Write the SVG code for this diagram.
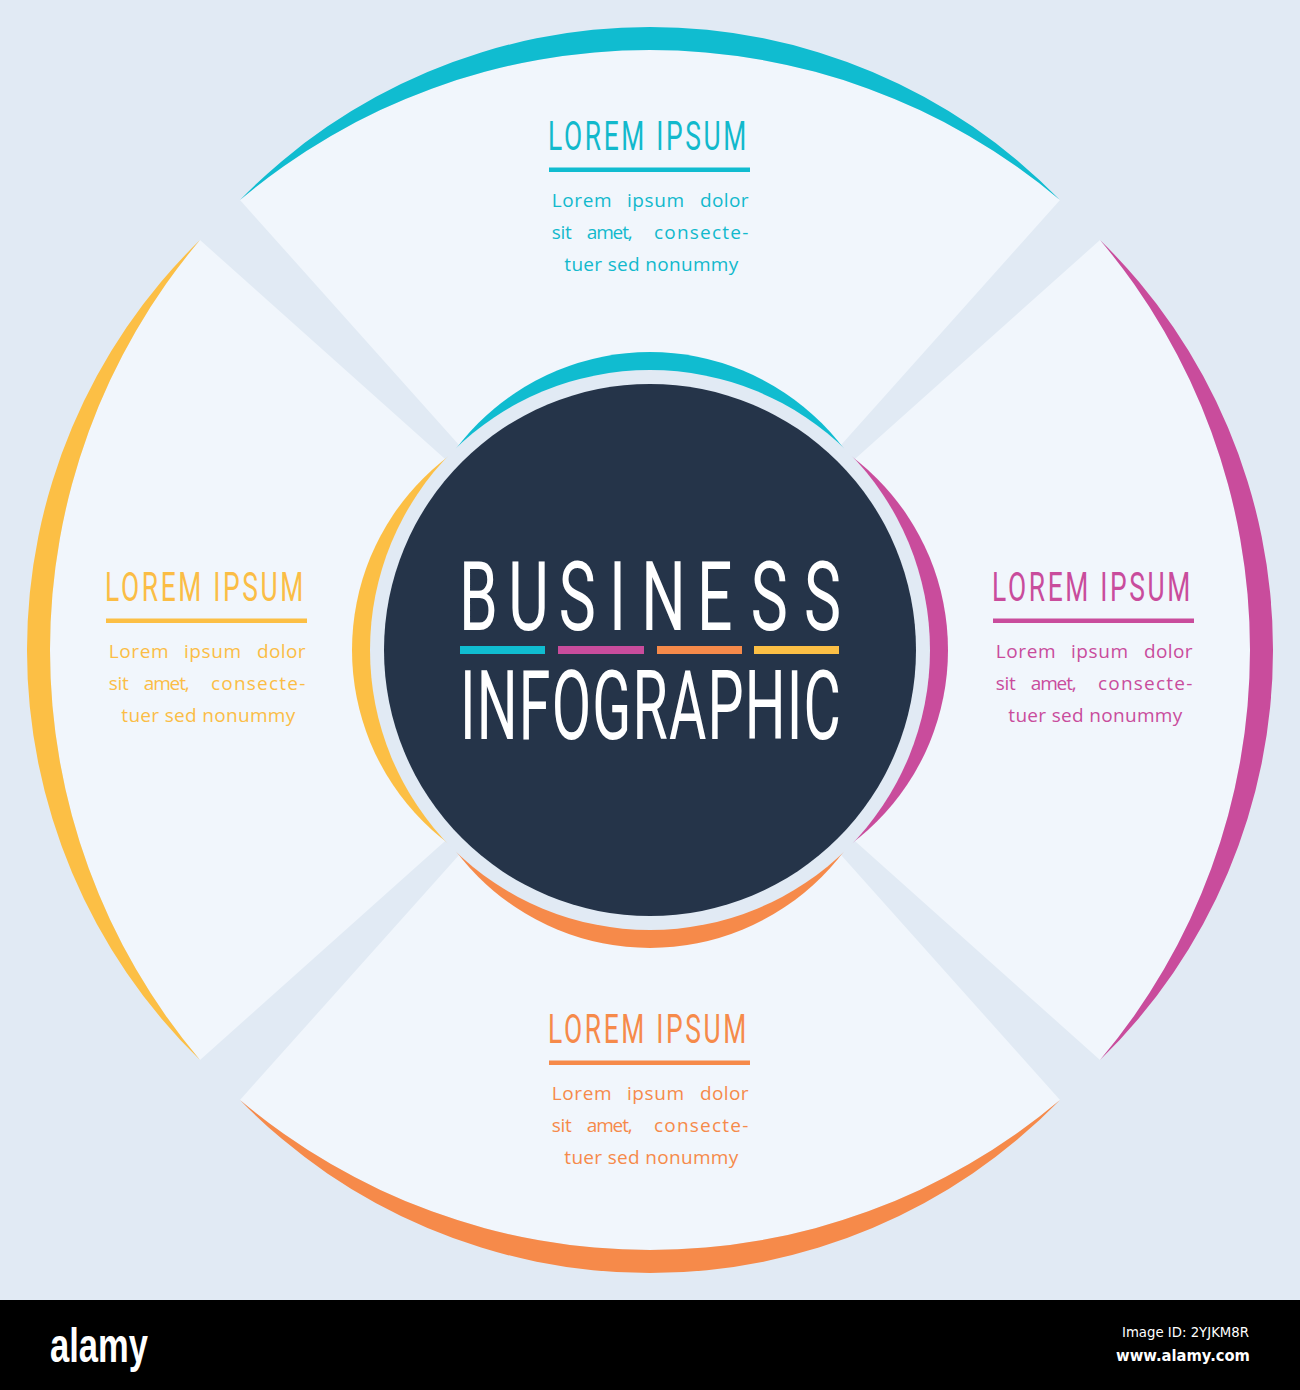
<svg xmlns="http://www.w3.org/2000/svg" width="1300" height="1390" viewBox="0 0 1300 1390">
<style>
.bg{fill:#e1eaf4}
.sector{fill:#f1f6fc}
.cyan{fill:#10bcd0}
.mag{fill:#c94c9c}
.org{fill:#f68a4a}
.yel{fill:#fcbf45}
.title{font-family:Roboto,"Liberation Sans",sans-serif;font-size:40px;letter-spacing:4px}
.body{font-family:"Open Sans","Liberation Sans",sans-serif;font-size:19px}
.big{font-family:Roboto,"Liberation Sans",sans-serif;font-size:96px;fill:#ffffff;text-anchor:middle}
</style>
<rect class="bg" x="0" y="0" width="1300" height="1300"/>

<g id="sectors">
  <path class="sector" d="M240,200 A635.3,635.3 0 0 1 1060,200 L723.6,576.4 L576.4,576.4 Z"/>
  <path class="sector" d="M1100,240 A635.3,635.3 0 0 1 1100,1060 L723.6,723.6 L723.6,576.4 Z"/>
  <path class="sector" d="M1060,1100 A635.3,635.3 0 0 1 240,1100 L576.4,723.6 L723.6,723.6 Z"/>
  <path class="sector" d="M200,1060 A635.3,635.3 0 0 1 200,240 L576.4,576.4 L576.4,723.6 Z"/>
</g>

<g id="outer-arcs">
  <path class="cyan" d="M240,200 A572.3,572.3 0 0 1 1060,200 A635.3,635.3 0 0 0 240,200 Z"/>
  <path class="mag" d="M1100,240 A572.3,572.3 0 0 1 1100,1060 A635.3,635.3 0 0 0 1100,240 Z"/>
  <path class="org" d="M1060,1100 A572.3,572.3 0 0 1 240,1100 A635.3,635.3 0 0 0 1060,1100 Z"/>
  <path class="yel" d="M200,1060 A572.3,572.3 0 0 1 200,240 A635.3,635.3 0 0 0 200,1060 Z"/>
</g>

<g id="connectors"></g>

<g id="center">
  <circle class="cyan" cx="650" cy="594.7" r="242.7"/>
  <circle class="mag" cx="705.3" cy="650" r="242.7"/>
  <circle class="org" cx="650" cy="705.3" r="242.7"/>
  <circle class="yel" cx="594.7" cy="650" r="242.7"/>
  <circle class="bg" cx="650" cy="650" r="280"/>
  <circle cx="650" cy="650" r="266" fill="#253449"/>
  <g transform="translate(0,630) scale(0.65,1)">
    <text class="big"><tspan x="736">B</tspan><tspan x="812.9">U</tspan><tspan x="888.3">S</tspan><tspan x="950">I</tspan><tspan x="1020.6">N</tspan><tspan x="1099.5">E</tspan><tspan x="1183.4">S</tspan><tspan x="1265.4">S</tspan></text>
  </g>
  <rect class="cyan" x="460" y="646" width="85" height="8"/>
  <rect class="mag" x="558" y="646" width="86" height="8"/>
  <rect class="org" x="657" y="646" width="85" height="8"/>
  <rect class="yel" x="754" y="646" width="85" height="8"/>
  <text x="460" y="739" font-family="Roboto, 'Liberation Sans', sans-serif" font-size="96" letter-spacing="2" fill="#ffffff" textLength="382" lengthAdjust="spacingAndGlyphs">INFOGRAPHIC</text>
</g>

<g id="node-top" fill="#12b9cc">
  <text class="title" x="548" y="150" textLength="201" lengthAdjust="spacingAndGlyphs">LOREM IPSUM</text>
  <rect class="cyan" x="549" y="167.5" width="201" height="4.5"/>
  <text class="body" y="207"><tspan x="551.7" textLength="60">Lorem</tspan><tspan x="627" textLength="57">ipsum</tspan><tspan x="700" textLength="48.5">dolor</tspan></text>
  <text class="body" y="239"><tspan x="551.7" textLength="20">sit</tspan><tspan x="586.7" textLength="46">amet,</tspan><tspan x="654" textLength="94.3">consecte-</tspan></text>
  <text class="body" x="564.3" y="271" textLength="174">tuer sed nonummy</text>
</g>

<g id="node-right" fill="#c94c9c">
  <text class="title" x="992" y="601" textLength="201" lengthAdjust="spacingAndGlyphs">LOREM IPSUM</text>
  <rect class="mag" x="993" y="618.5" width="201" height="4.5"/>
  <text class="body" y="658"><tspan x="995.7" textLength="60">Lorem</tspan><tspan x="1071" textLength="57">ipsum</tspan><tspan x="1144" textLength="48.5">dolor</tspan></text>
  <text class="body" y="690"><tspan x="995.7" textLength="20">sit</tspan><tspan x="1030.7" textLength="46">amet,</tspan><tspan x="1098" textLength="94.3">consecte-</tspan></text>
  <text class="body" x="1008.3" y="722" textLength="174">tuer sed nonummy</text>
</g>

<g id="node-bottom" fill="#f68a4a">
  <text class="title" x="548" y="1043" textLength="201" lengthAdjust="spacingAndGlyphs">LOREM IPSUM</text>
  <rect class="org" x="549" y="1060.5" width="201" height="4.5"/>
  <text class="body" y="1100"><tspan x="551.7" textLength="60">Lorem</tspan><tspan x="627" textLength="57">ipsum</tspan><tspan x="700" textLength="48.5">dolor</tspan></text>
  <text class="body" y="1132"><tspan x="551.7" textLength="20">sit</tspan><tspan x="586.7" textLength="46">amet,</tspan><tspan x="654" textLength="94.3">consecte-</tspan></text>
  <text class="body" x="564.3" y="1164" textLength="174">tuer sed nonummy</text>
</g>

<g id="node-left" fill="#fbbd45">
  <text class="title" x="105" y="601" textLength="201" lengthAdjust="spacingAndGlyphs">LOREM IPSUM</text>
  <rect class="yel" x="106" y="618.5" width="201" height="4.5"/>
  <text class="body" y="658"><tspan x="108.7" textLength="60">Lorem</tspan><tspan x="184" textLength="57">ipsum</tspan><tspan x="257" textLength="48.5">dolor</tspan></text>
  <text class="body" y="690"><tspan x="108.7" textLength="20">sit</tspan><tspan x="143.7" textLength="46">amet,</tspan><tspan x="211" textLength="94.3">consecte-</tspan></text>
  <text class="body" x="121.3" y="722" textLength="174">tuer sed nonummy</text>
</g>

<g id="footer">
  <rect x="0" y="1300" width="1300" height="90" fill="#000000"/>
  <text x="50" y="1362" font-family="'Liberation Sans', Arial, sans-serif" font-weight="bold" font-size="48" fill="#ffffff" textLength="98" lengthAdjust="spacingAndGlyphs">alamy</text>
  <text x="1249" y="1337" font-family="'DejaVu Sans', sans-serif" font-size="13.5" fill="#ffffff" text-anchor="end" textLength="127" lengthAdjust="spacingAndGlyphs">Image ID: 2YJKM8R</text>
  <text x="1250" y="1361" font-family="'DejaVu Sans', sans-serif" font-weight="bold" font-size="15" fill="#ffffff" text-anchor="end" textLength="134" lengthAdjust="spacingAndGlyphs">www.alamy.com</text>
</g>
</svg>
